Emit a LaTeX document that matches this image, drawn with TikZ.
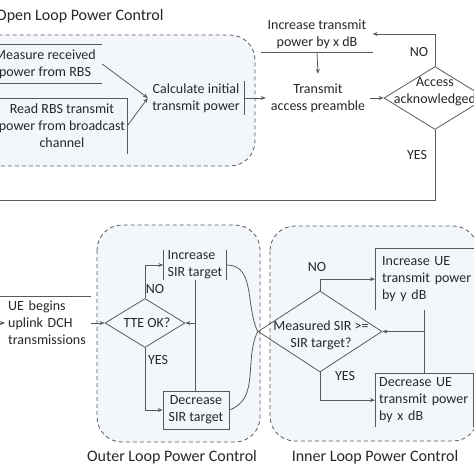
\documentclass[tikz,border=0pt]{standalone}
\usepackage{fontspec}
\setmainfont{Carlito}
\usetikzlibrary{arrows.meta,positioning,shapes.geometric}
\definecolor{loopfill}{RGB}{243,247,252}
\definecolor{linegray}{RGB}{90,90,90}
\definecolor{textgray}{RGB}{40,40,40}
\newcommand{\blkfont}{\fontsize{14}{17}\selectfont}
\newcommand{\ttlfont}{\fontsize{16}{19}\selectfont}
\tikzset{x=1pt,y=1pt}
\tikzset{every node/.append style={text=textgray}}
\tikzset{blk/.style={inner sep=0pt, align=center, font=\blkfont}}
\tikzset{dia/.style={diamond, draw=linegray, inner sep=0pt, line width=0.8pt}}
\tikzset{region/.style={draw=linegray, fill=loopfill, dash pattern=on 4pt off 3pt, rounded corners=25pt, line width=0.8pt}}
\tikzset{wire/.style={draw=linegray, line width=0.8pt}}
\tikzset{arr/.style={wire, -{Stealth[length=5pt,width=4pt]}}}

\begin{document}
\begin{tikzpicture}
  % canvas in pixels, y downwards is negative
  \useasboundingbox[fill=white] (0,0) rectangle (474,-474);
  \clip (0,0) rectangle (474,-474);

  % dashed loop regions
  \path[region] (-30,-35) rectangle (255,-166);
  \path[region] (97,-225) rectangle (260,-442);
  \path[region] (270,-226) rectangle (478,-441);

  \node[anchor=west, inner sep=0pt, font=\ttlfont] (oltitle) at (-4,-16) {Open Loop Power Control};
  \node[inner sep=0pt, font=\ttlfont] (outtitle) at (172,-457) {Outer Loop Power Control};
  \node[inner sep=0pt, font=\ttlfont] (intitle) at (375,-457) {Inner Loop Power Control};

  %% open loop
  \node[blk, minimum width=114pt, minimum height=38pt] (meas) at (45,-64) {Measure received\\power from RBS};
  \node[blk, minimum width=130pt, minimum height=55pt] (rbs) at (62,-126) {Read RBS transmit\\power from broadcast\\channel};
  \node[blk, minimum width=96pt, minimum height=34pt] (calc) at (196,-98) {Calculate initial\\transmit power};
  \node[blk, minimum width=111pt, minimum height=36pt] (inctx) at (317,-34) {Increase transmit\\power by x dB};
  \node[blk, minimum width=104pt, minimum height=48pt] (tx) at (318,-98) {Transmit\\access preamble};
  \node[dia, minimum width=102pt, minimum height=63pt] (acc) at (435,-98) {};
  \node[blk] (acct) at (435,-92) {Access\\acknowledged};

  \draw[wire] (meas.north west) -- (meas.north east) (meas.south west) -- (meas.south east);
  \draw[wire] (rbs.north west) -- (rbs.north east) -- (rbs.south east);
  \draw[wire] (calc.north east) -- (calc.south east);
  \draw[wire] (inctx.south west) -- (inctx.south east);

  \draw[arr] (meas.east) -- (calc.west);
  \draw[arr] (rbs.east) -- (calc.west);
  \draw[arr] (calc.east) -- (tx.west);
  \draw[arr] (inctx.south) -- (tx.north);
  \draw[arr] (tx.east) -- (acc.west);
  \draw[arr] (acc.north) |- (inctx.east);

  %% outer loop
  \node[blk, anchor=west, align=left, inner xsep=3pt, text width=80pt, minimum height=52pt] (ue) at (5,-323) {UE begins\\uplink DCH\\transmissions};
  \node[dia, minimum width=80pt, minimum height=49pt] (tte) at (145,-323) {};
  \node[blk] (ttet) at (147,-323) {TTE OK?};
  \node[blk, align=left, minimum width=63pt, minimum height=29pt] (incsir) at (195,-265) {Increase\\SIR target};
  \node[blk, draw=linegray, line width=0.8pt, minimum width=66pt, minimum height=38pt] (decsir) at (196,-410) {Decrease\\SIR target};

  \coordinate (back) at (-10,-200);
  \draw[arr] (acc.south) |- (back) |- (ue.west);
  \draw[wire] (ue.north east) -- ++(-95,0);
  \draw[wire] (incsir.north west) -- (incsir.south west) (incsir.north east) -- (incsir.south east);

  \draw[arr] (ue.east) -- (tte.west);
  \draw[arr] (tte.north) |- (incsir.west);
  \draw[arr] (tte.south) |- (decsir.west);
  \coordinate (fbo) at (incsir.south |- tte.east);
  \draw[wire] (incsir.south) -- (incsir.south |- decsir.north);
  \draw[arr] (fbo) -- (tte.east);

  %% inner loop
  \node[dia, minimum width=124pt, minimum height=81pt] (msr) at (320,-331.5) {};
  \node[blk] (msrt) at (321,-335) {Measured SIR >=\\SIR target?};
  \node[blk, anchor=north west, align=left, inner xsep=7pt, text width=100pt, minimum height=62pt] (incue) at (375,-248) {Increase UE\\transmit power\\by y dB};
  \node[blk, anchor=north west, align=left, inner xsep=4pt, text width=90pt, minimum height=54pt] (decue) at (375,-373) {Decrease UE\\transmit power\\by x dB};

  \draw[wire] (incue.north east) -- (incue.north west) -- (incue.south west);
  \draw[wire] (decue.south west) -- (decue.north west) -- (decue.north east) -- (decue.south east);

  \draw[wire] (incsir.east) to[out=0, in=115] (msr.west);
  \draw[wire] (decsir.east) to[out=20, in=-115] (msr.west);

  \draw[arr] (msr.north) |- (incue.west);
  \draw[arr] (msr.south) |- (decue.west);
  \coordinate (fbi) at (decue.north |- msr.east);
  \draw[wire] (decue.north) -- (decue.north |- incue.south);
  \draw[arr] (fbi) -- (msr.east);

  % yes / no answers
  \foreach \pos/\txt [count=\i] in {{419,-52}/NO, {417,-155}/YES, {155,-289}/NO, {158,-360}/YES, {317,-267}/NO, {345,-376}/YES}
    \node[blk] (ans\i) at (\pos) {\txt};
\end{tikzpicture}
\end{document}
